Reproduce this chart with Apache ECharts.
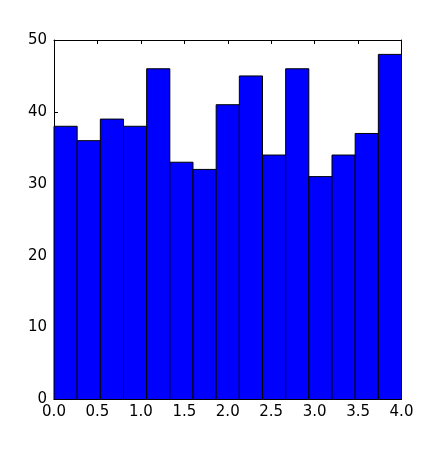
<!DOCTYPE html>
<html>
<head>
<meta charset="utf-8">
<script src="https://cdn.jsdelivr.net/npm/echarts@6/dist/echarts.min.js"></script>
<style>html,body{margin:0;padding:0;background:#fff;}#c{width:448px;height:452px;}</style>
</head>
<body>
<div id="c"></div>
<script>
var binStart = 0;
var binEnd = 4;
var counts = [38, 36, 39, 38, 46, 33, 32, 41, 45, 34, 46, 31, 34, 37, 48];
var xTicks = ['0.0', '0.5', '1.0', '1.5', '2.0', '2.5', '3.0', '3.5', '4.0'];
var yTicks = ['0', '10', '20', '30', '40', '50'];

var binW = (binEnd - binStart) / counts.length;
var data = counts.map(function (v, i) {
  return [binStart + i * binW, binStart + (i + 1) * binW, v];
});

var chart = echarts.init(document.getElementById('c'));
var font = 'DejaVu Sans';
var axisCommon = {
  axisLine: { show: true, onZero: false, lineStyle: { color: '#000', width: 1 } },
  axisTick: { show: true, inside: true, length: 4, lineStyle: { color: '#000', width: 1 } },
  splitLine: { show: false }
};
chart.setOption({
  animation: false,
  grid: { left: 54, top: 40, right: 46.5, bottom: 52.5, containLabel: false },
  xAxis: [
    Object.assign({
      type: 'value', min: 0, max: 4, interval: 0.5, position: 'bottom',
      axisLabel: { color: '#000', fontFamily: font, fontSize: 15, margin: 5,
        formatter: function (v) { return xTicks[Math.round(v / 0.5)]; } }
    }, axisCommon),
    Object.assign({
      type: 'value', min: 0, max: 4, interval: 0.5, position: 'top',
      axisLabel: { show: false }
    }, axisCommon)
  ],
  yAxis: [
    Object.assign({
      type: 'value', min: 0, max: 50, interval: 10, position: 'left',
      axisLabel: { color: '#000', fontFamily: font, fontSize: 15, margin: 7,
        formatter: function (v) { return yTicks[Math.round(v / 10)]; } }
    }, axisCommon),
    Object.assign({
      type: 'value', min: 0, max: 50, interval: 10, position: 'right',
      axisLabel: { show: false }
    }, axisCommon)
  ],
  series: [{
    type: 'custom',
    xAxisIndex: 0, yAxisIndex: 0,
    data: data,
    encode: { x: [0, 1], y: 2 },
    renderItem: function (params, api) {
      var p0 = api.coord([api.value(0), 0]);
      var p1 = api.coord([api.value(1), api.value(2)]);
      return {
        type: 'rect',
        shape: { x: p0[0], y: p1[1], width: p1[0] - p0[0], height: p0[1] - p1[1] },
        style: { fill: '#0000ff', stroke: '#000', lineWidth: 1 }
      };
    }
  }]
});
</script>
</body>
</html>
